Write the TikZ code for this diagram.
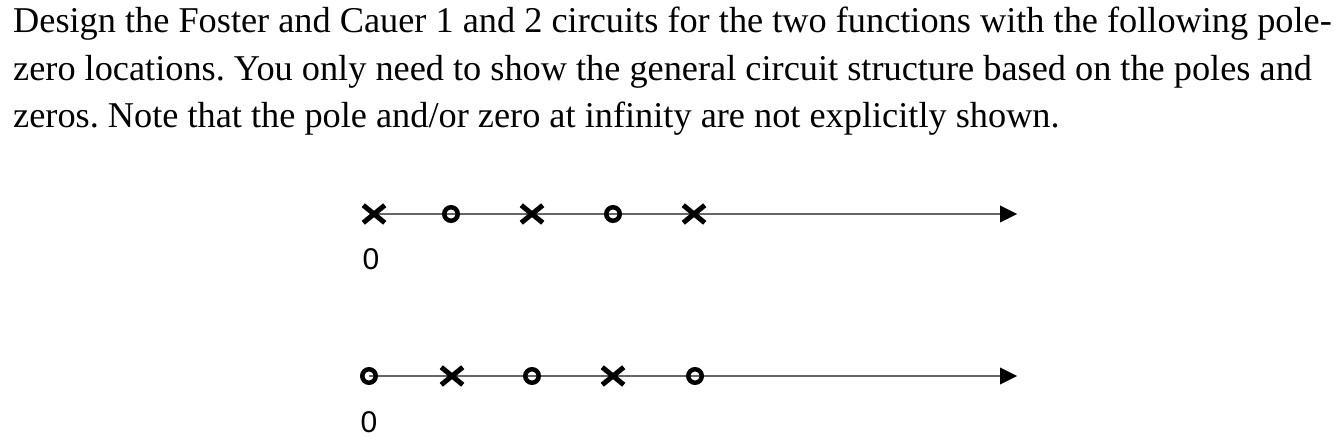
\documentclass[tikz,border=0pt]{standalone}
\usepackage{fontspec}
\setmainfont{Liberation Serif}
\newfontfamily\arialfont{Liberation Sans}
\usetikzlibrary{arrows.meta,shapes.misc,backgrounds}
\frenchspacing
\begin{document}
\begin{tikzpicture}[x=1pt,y=-1pt,
  txt/.style={anchor=base west, inner sep=0pt, font=\fontsize{36.3}{44}\selectfont},
  lbl/.style={anchor=base, inner sep=0pt, font=\arialfont\fontsize{30}{36}\selectfont},
  axisline/.style={draw=black!60, line width=1.6pt, -{Triangle[length=17pt,width=17pt,fill=black,line width=0pt]}},
  polemark/.style={draw=black, cross out, line width=5pt, minimum width=16.5pt, minimum height=12.5pt, inner sep=0pt},
  zeromark/.style={draw=black, circle, line width=4.5pt, minimum size=13.5pt, inner sep=0pt}
]
\useasboundingbox (0,0) rectangle (1341,446);

\node[txt] (l1) at (13,33) {Design the Foster and Cauer 1 and 2 circuits for the two functions with the following pole-};
\node[txt] (l2) at (13,80.5) {zero locations. You only need to show the general circuit structure based on the poles and};
\node[txt] (l3) at (13,128) {zeros. Note that the pole and/or zero at infinity are not explicitly shown.};

% axis 1
\node[polemark] (a1) at (374,214) {};
\node[zeromark] (a2) at (451,214) {};
\node[polemark] (a3) at (532,214) {};
\node[zeromark] (a4) at (613,214) {};
\node[polemark] (a5) at (694,214) {};
\coordinate (ae) at (1017,214);
\node[lbl] (z1) at (371,270) {0};

% axis 2
\node[zeromark] (b1) at (369,376) {};
\node[polemark] (b2) at (452,376) {};
\node[zeromark] (b3) at (532,376) {};
\node[polemark] (b4) at (613,376) {};
\node[zeromark] (b5) at (695,376) {};
\coordinate (be) at (1017,376);
\node[lbl] (z2) at (369,432) {0};

\begin{scope}[on background layer]
\fill[white] (0,0) rectangle (1341,446);
\draw[axisline] (a1.center) -- (ae);
\draw[axisline] (b1.center) -- (be);
\end{scope}
\end{tikzpicture}
\end{document}
